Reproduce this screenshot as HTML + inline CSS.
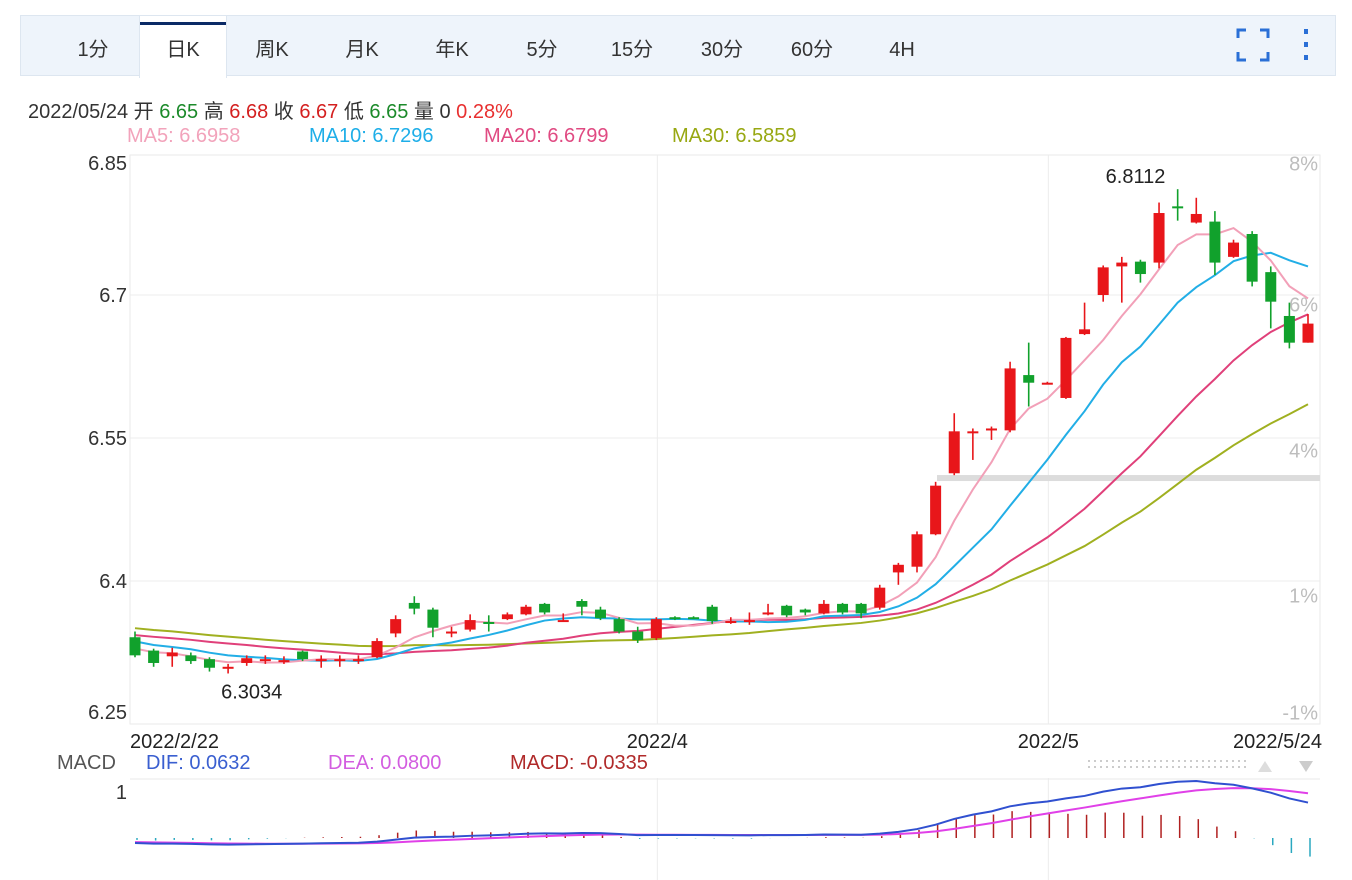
<!DOCTYPE html>
<html><head><meta charset="utf-8">
<style>
body{margin:0;width:1352px;height:880px;background:#fff;overflow:hidden;font-family:"Liberation Sans","Noto Sans CJK SC",sans-serif;position:relative}
.t{position:absolute;white-space:nowrap}
#tabs{position:absolute;left:20px;top:15px;width:1316px;height:61px;background:#eef4fb;border:1px solid #dde6f0;box-sizing:border-box}
.tab{position:absolute;top:0;height:61px;line-height:68px;font-size:20px;color:#333;text-align:center;width:88px}
.tab.active{background:#fff;border-left:1px solid #dde6f0;border-right:1px solid #dde6f0;height:62px;box-sizing:border-box}
.tab.active:before{content:"";position:absolute;left:0;right:0;top:6px;height:3px;background:#0b2a66}
</style></head><body>
<div id="tabs">
<div class="tab" style="left:28px">1分</div>
<div class="tab active" style="left:118px">日K</div>
<div class="tab" style="left:207px">周K</div>
<div class="tab" style="left:297px">月K</div>
<div class="tab" style="left:387px">年K</div>
<div class="tab" style="left:477px">5分</div>
<div class="tab" style="left:567px">15分</div>
<div class="tab" style="left:657px">30分</div>
<div class="tab" style="left:747px">60分</div>
<div class="tab" style="left:837px">4H</div>
<svg style="position:absolute;left:1215px;top:12px" width="34" height="34"><g stroke="#2a6fd6" stroke-width="3" fill="none"><path d="M2 10V2h8M24 2h8v8M32 24v8h-8M10 32H2v-8"/></g></svg>
<svg style="position:absolute;left:1280px;top:12px" width="10" height="34"><g fill="#2a6fd6"><rect x="3" y="1" width="4" height="5"/><rect x="3" y="14" width="4" height="5"/><rect x="3" y="27" width="4" height="5"/></g></svg>
</div>
<div class="t" style="left:28px;top:95px;font-size:20px;color:#333">2022/05/24 开 <span style="color:#1b8a2a">6.65</span> 高 <span style="color:#d42020">6.68</span> 收 <span style="color:#d42020">6.67</span> 低 <span style="color:#1b8a2a">6.65</span> 量 0 <span style="color:#e83030">0.28%</span></div>
<div class="t" style="left:127px;top:125px;font-size:20px;color:#f2a3bb">MA5: 6.6958</div>
<div class="t" style="left:309px;top:125px;font-size:20px;color:#1eaee8">MA10: 6.7296</div>
<div class="t" style="left:484px;top:125px;font-size:20px;color:#e04a82">MA20: 6.6799</div>
<div class="t" style="left:672px;top:125px;font-size:20px;color:#98a812">MA30: 6.5859</div>
<div class="t" style="left:57px;top:752px;font-size:20px;color:#555">MACD</div>
<div class="t" style="left:146px;top:752px;font-size:20px;color:#3a5fd0">DIF: 0.0632</div>
<div class="t" style="left:328px;top:752px;font-size:20px;color:#d35de0">DEA: 0.0800</div>
<div class="t" style="left:510px;top:752px;font-size:20px;color:#b02a2a">MACD: -0.0335</div>
<svg id="c" width="1352" height="880" style="position:absolute;left:0;top:0"></svg>
<script>
const closesBefore=[6.372,6.368,6.375,6.366,6.360,6.364,6.370,6.362,6.355,6.358,6.350,6.356,6.348,6.352,6.345,6.350,6.356,6.349,6.344,6.348,6.352,6.346,6.340,6.345,6.338,6.334,6.330,6.332,6.328];
const opens=[6.341,6.327,6.321,6.322,6.318,6.308,6.314,6.317,6.317,6.326,6.317,6.317,6.318,6.320,6.345,6.377,6.370,6.347,6.349,6.357,6.360,6.365,6.376,6.359,6.379,6.370,6.360,6.347,6.340,6.362,6.362,6.373,6.358,6.359,6.365,6.374,6.370,6.366,6.376,6.376,6.372,6.409,6.415,6.449,6.513,6.555,6.558,6.558,6.616,6.608,6.592,6.659,6.700,6.730,6.735,6.734,6.793,6.776,6.777,6.740,6.764,6.724,6.678,6.650];
const highs=[6.347,6.329,6.330,6.325,6.320,6.313,6.322,6.322,6.321,6.327,6.322,6.322,6.322,6.340,6.364,6.384,6.372,6.352,6.365,6.364,6.367,6.375,6.377,6.366,6.381,6.373,6.362,6.352,6.362,6.363,6.363,6.375,6.362,6.367,6.376,6.375,6.371,6.380,6.377,6.377,6.396,6.419,6.452,6.504,6.576,6.560,6.562,6.630,6.650,6.609,6.656,6.692,6.731,6.740,6.737,6.797,6.811,6.802,6.788,6.758,6.767,6.730,6.692,6.680];
const lows=[6.320,6.310,6.310,6.313,6.305,6.303,6.311,6.313,6.313,6.316,6.309,6.310,6.313,6.319,6.341,6.365,6.341,6.341,6.347,6.347,6.359,6.364,6.365,6.357,6.364,6.359,6.345,6.335,6.338,6.359,6.360,6.355,6.355,6.354,6.364,6.362,6.364,6.365,6.365,6.361,6.370,6.396,6.409,6.448,6.511,6.527,6.548,6.556,6.583,6.607,6.591,6.658,6.693,6.692,6.713,6.728,6.778,6.775,6.721,6.739,6.709,6.665,6.644,6.650];
const closes=[6.322,6.314,6.325,6.316,6.309,6.310,6.319,6.318,6.317,6.318,6.318,6.318,6.318,6.337,6.360,6.371,6.351,6.347,6.359,6.355,6.365,6.373,6.367,6.359,6.373,6.361,6.347,6.338,6.360,6.360,6.361,6.358,6.358,6.359,6.367,6.364,6.367,6.376,6.367,6.366,6.393,6.417,6.449,6.500,6.557,6.557,6.560,6.623,6.608,6.608,6.655,6.664,6.729,6.734,6.722,6.786,6.791,6.785,6.734,6.755,6.714,6.693,6.650,6.670];
const priceTicks=[6.85,6.7,6.55,6.4,6.25];
const pctTicks=["8%","6%","4%","1%","-1%"];
const pctPrices=[6.838,6.690,6.537,6.385,6.262];
const dateLabels=["2022/2/22","2022/4","2022/5","2022/5/24"];
const dateIdx=[0,28,49,63];

const svg=document.getElementById('c');const NS='http://www.w3.org/2000/svg';
function mk(tag,attrs,parent){const e=document.createElementNS(NS,tag);for(const k in attrs)e.setAttribute(k,attrs[k]);(parent||svg).appendChild(e);return e;}
const X0=135,STEP=(1308-135)/63;
function xs(i){return X0+i*STEP;}
function ys(p){return 438-(p-6.55)*953.3;}
const L=130,R=1320,T=155,B=724;
// grid
const grid=mk('g',{});
mk('rect',{x:L,y:T,width:R-L,height:B-T,fill:'none',stroke:'#eaeaea'},grid);
[6.7,6.55,6.4].forEach(p=>mk('line',{x1:L,x2:R,y1:ys(p),y2:ys(p),stroke:'#ececec'},grid));
[28,49].forEach(i=>{mk('line',{x1:xs(i)+1,x2:xs(i)+1,y1:T,y2:B,stroke:'#ececec'},grid);mk('line',{x1:xs(i)+1,x2:xs(i)+1,y1:778,y2:880,stroke:'#ececec'},grid);});
mk('line',{x1:L,x2:R,y1:779,y2:779,stroke:'#eaeaea'},grid);
// current price band
const band=mk('rect',{x:937,y:ys(6.508)-3,width:R-937,height:6,fill:'#dcdcdc'});

// y labels
priceTicks.forEach((p,k)=>{let y=ys(p);if(y<T+8)y=T+8;if(y>B-12)y=B-12;
 const t=mk('text',{x:127,y:y+7,'text-anchor':'end','font-size':20,fill:'#333'});t.textContent=p;
 });
pctTicks.forEach((s,k)=>{const t=mk('text',{x:1318,y:ys(pctPrices[k])+7,'text-anchor':'end','font-size':20,fill:'#bdbdbd'});t.textContent=s;
 });
dateLabels.forEach((s,k)=>{const i=dateIdx[k];const anc=k==0?'start':(k==3?'end':'middle');const x=k==0?130:(k==3?1322:xs(i)+1);
 const t=mk('text',{x:x,y:748,'text-anchor':anc,'font-size':20,fill:'#222'});t.textContent=s;
 });
// MAs
const all=closesBefore.concat(closes);const off=closesBefore.length;
function ma(n){return closes.map((c,i)=>{let s=0;for(let j=0;j<n;j++)s+=all[off+i-j];return s/n;});}
[[30,'#a0b020'],[20,'#e0407a'],[10,'#22aee6'],[5,'#f2a0b8']].forEach(([n,col])=>{
 const v=ma(n);const p=mk('polyline',{points:v.map((m,i)=>xs(i)+','+ys(m)).join(' '),fill:'none',stroke:col,'stroke-width':2});
 });
// candles
const cg=mk('g',{});
closes.forEach((c,i)=>{const o=opens[i];const up=c>o;const flat=Math.abs(c-o)<0.0015;
 const col=flat?(c>=o?'#e8161a':'#11a12c'):(up?'#e8161a':'#11a12c');const x=xs(i);
 const g=mk('g',{},cg);
 mk('line',{x1:x,x2:x,y1:ys(highs[i]),y2:ys(lows[i]),stroke:col,'stroke-width':1.6},g);
 const yt=ys(Math.max(o,c)),yb=ys(Math.min(o,c));
 mk('rect',{x:x-5.5,y:yt,width:11,height:Math.max(2,yb-yt),fill:col},g);});
// hi/lo labels
let hi=0,lo=0;highs.forEach((h,i)=>{if(h>highs[hi])hi=i;});lows.forEach((l,i)=>{if(l<lows[lo])lo=i;});
const ht=mk('text',{x:xs(hi)-72,y:ys(highs[hi])-6,'font-size':20,fill:'#222'});ht.textContent=highs[hi].toFixed(4).replace(/0$/,'2');

const lt=mk('text',{x:xs(lo)-7,y:ys(lows[lo])+25,'font-size':20,fill:'#222'});lt.textContent='6.3034';

// MACD
function ema(arr,n){const k=2/(n+1);let e=arr[0];return arr.map(v=>(e=v*k+e*(1-k)));}
const e12=ema(all,12),e26=ema(all,26);const difAll=e12.map((v,i)=>v-e26[i]);const deaAll=ema(difAll,9);
const dif=difAll.slice(off),dea=deaAll.slice(off),hist=dif.map((d,i)=>2*(d-dea[i]));
let mx=0;dif.concat(dea).forEach(v=>mx=Math.max(mx,Math.abs(v)));
const Z=838;function ym(v){return Z-v/mx*57;}
const mg=mk('g',{});
hist.forEach((h,i)=>{const b=mk('line',{x1:xs(i)+2,x2:xs(i)+2,y1:Z,y2:ym(h),stroke:h>=0?'#b02020':'#2aa8c0','stroke-width':1.5},mg);
 });
const dl=mk('polyline',{points:dea.map((v,i)=>xs(i)+','+ym(v)).join(' '),fill:'none',stroke:'#e040e8','stroke-width':2});

const fl=mk('polyline',{points:dif.map((v,i)=>xs(i)+','+ym(v)).join(' '),fill:'none',stroke:'#3050d0','stroke-width':2});

const one=mk('text',{x:127,y:799,'text-anchor':'end','font-size':20,fill:'#333'});one.textContent='1';

// scroll controls
const sc=mk('g',{});
for(let r=0;r<2;r++)for(let k=0;k<27;k++)mk('rect',{x:1088+k*6,y:760+r*6,width:2,height:2,fill:'#ccc'},sc);
mk('path',{d:'M1258 772L1265 761L1272 772Z',fill:'#ddd'},sc);
mk('path',{d:'M1299 761L1313 761L1306 772Z',fill:'#ccc'},sc);
</script>
</body></html>
